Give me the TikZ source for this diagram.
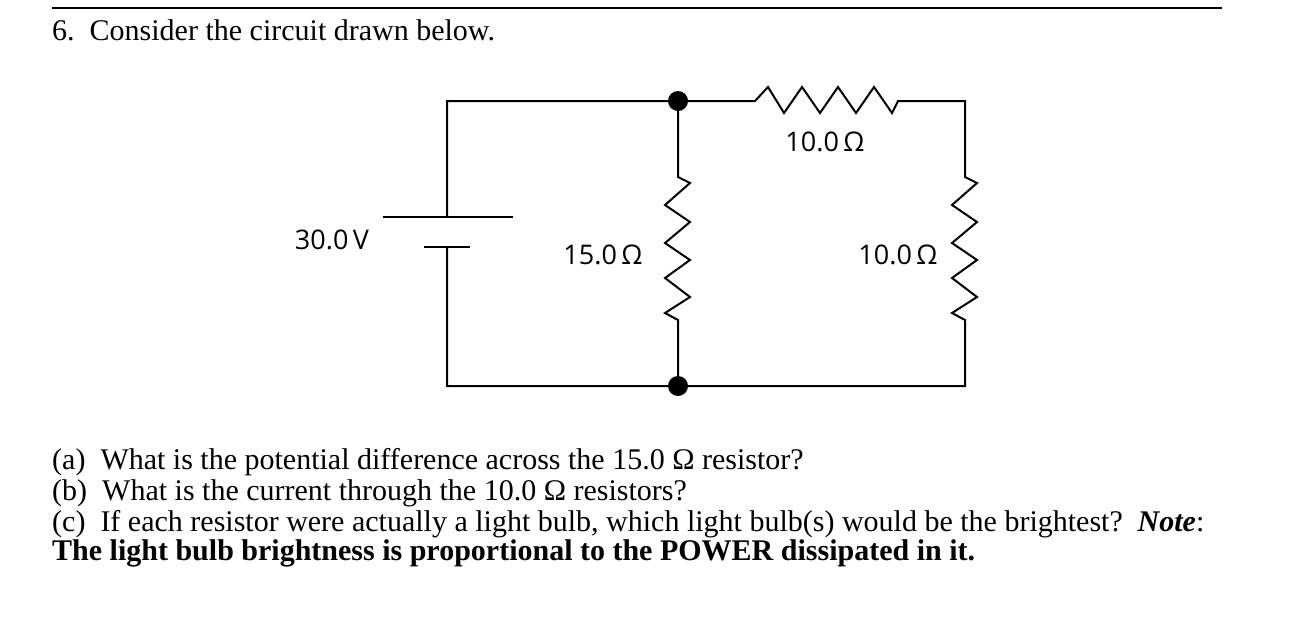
\documentclass[tikz,border=0pt]{standalone}
\usepackage{fontspec}
\setmainfont{Liberation Serif}
\newfontfamily\lbl{Open Sans}
\begin{document}
\begin{tikzpicture}[x=1pt,y=-1pt,
  w/.style={line width=2pt},
  dot/.style={circle,fill=black,inner sep=0pt,minimum size=20pt},
  lab/.style={font=\lbl\fontsize{27}{30}\selectfont},
  txt/.style={anchor=west,inner sep=0pt,font=\fontsize{30}{34}\selectfont}]
\useasboundingbox (0,0) rectangle (1300,622);
\draw[line width=1.2pt] (52,8) -- (1222,8);
\node[txt] (t) at (52,30) {6.\ \ Consider the circuit drawn below.};
\coordinate (tl) at (447,101); \coordinate (bl) at (447,386);
\node[dot] (jt) at (678,101) {}; \node[dot] (jb) at (678,386) {};
\coordinate (tr) at (965,101); \coordinate (br) at (965,386);
\coordinate (p1) at (383,217); \coordinate (p2) at (513,217);
\coordinate (q1) at (424,247); \coordinate (q2) at (470,247);
\draw[w] (p1) -- (p2); \draw[w] (q1) -- (q2);
\draw[w] (447,217) -- (tl) -- (jt.center) -- (755,101)
  -- (768,87) -- (784,113) -- (802,87) -- (820,113) -- (838,87) -- (856,113) -- (874,87) -- (892,113) -- (898,101) -- (tr)
  -- (965,177) -- (977,183) -- (952,205) -- (977,222) -- (952,243) -- (977,260) -- (952,278) -- (977,297) -- (952,313) -- (965,320) -- (br) -- (jb.center) -- (bl) -- (447,247);
\draw[w] (jt.center) -- (678,177) -- (690,183) -- (665,205) -- (690,222) -- (665,243) -- (690,260) -- (665,278) -- (690,297) -- (665,313) -- (678,320) -- (jb.center);
\node[lab] (v) at (332,240) {30.0\,V};
\node[lab] (r1) at (603,255) {15.0\,Ω};
\node[lab] (r2) at (825,142) {10.0\,Ω};
\node[lab] (r3) at (898,255) {10.0\,Ω};
\node[txt] (a) at (52,462) {(a)\ \ What is the potential difference across the 15.0 Ω resistor?};
\node[txt] (b) at (52,493) {(b)\ \ What is the current through the 10.0 Ω resistors?};
\node[txt] (c) at (52,524) {(c)\ \ If each resistor were actually a light bulb, which light bulb(s) would be the brightest?\ \ \textbf{\textit{Note}}:};
\node[txt] (d) at (52,553) {\textbf{The light bulb brightness is proportional to the POWER dissipated in it.}};
\end{tikzpicture}
\end{document}
